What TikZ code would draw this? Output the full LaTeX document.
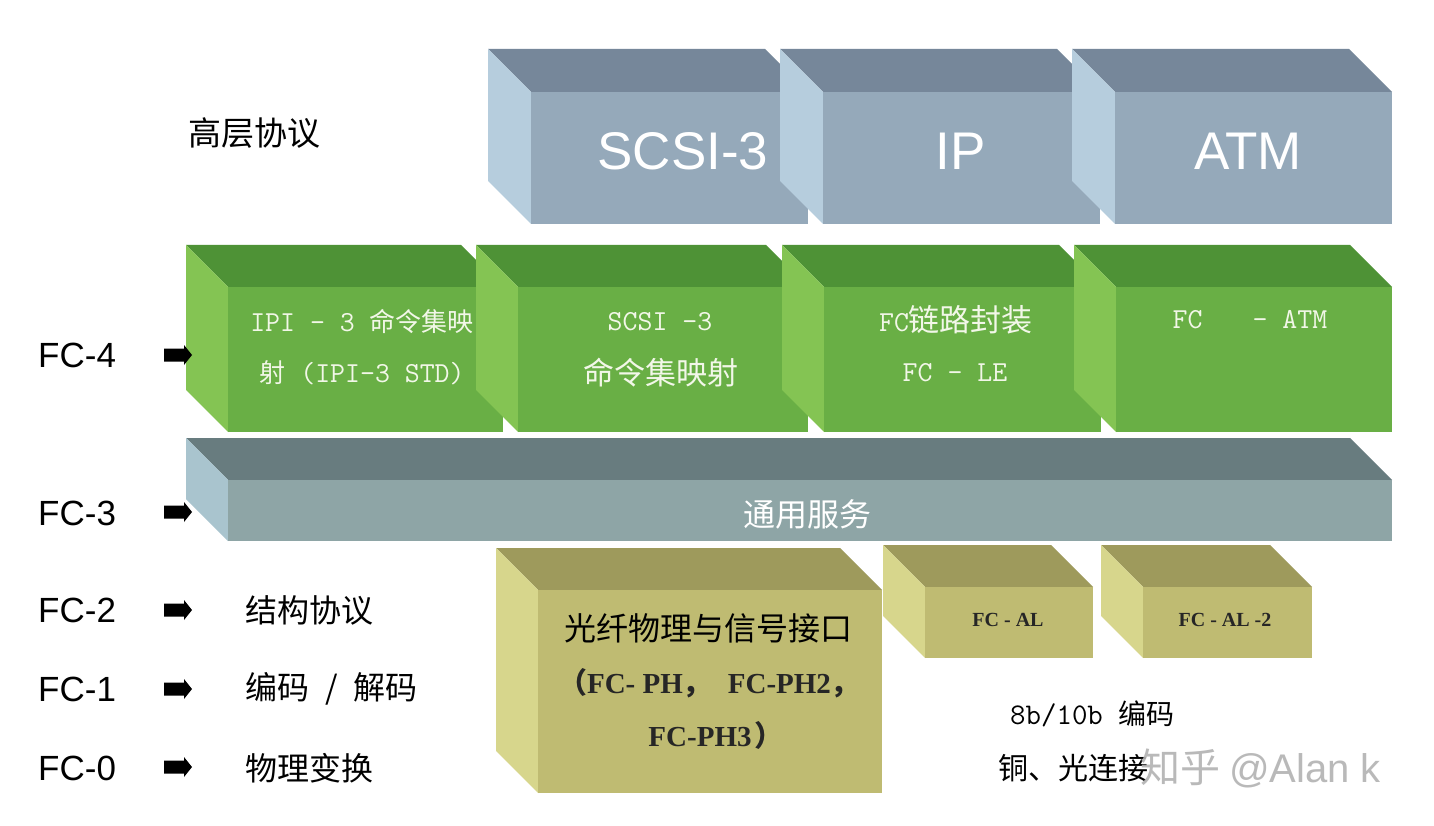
\documentclass[tikz,border=0pt]{standalone}
\usepackage{fontspec}
\setmainfont{Liberation Serif}
\newfontfamily\cjk{Noto Sans CJK SC}
\newfontfamily\arialf{Liberation Sans}
\newcommand\zh[1]{{\cjk #1}}
\definecolor{topF}{HTML}{95A9BA}
\definecolor{topT}{HTML}{76879A}
\definecolor{topS}{HTML}{B6CDDD}
\definecolor{grnF}{HTML}{69AF45}
\definecolor{grnT}{HTML}{4E9236}
\definecolor{grnS}{HTML}{84C453}
\definecolor{barF}{HTML}{8EA5A6}
\definecolor{barT}{HTML}{687C7F}
\definecolor{barS}{HTML}{A9C4CE}
\definecolor{olvF}{HTML}{BFBB72}
\definecolor{olvT}{HTML}{9E9A5C}
\definecolor{olvS}{HTML}{D7D68C}
\definecolor{grnTxt}{HTML}{F2F7E8}
\newcommand\fccube[9]{%
  \fill[#8] (#2,#3) -- (#4,#3) -- ({#4-#6},{#3-#6}) -- ({#2-#6},{#3-#6}) -- cycle;
  \fill[#9] (#2,#3) -- (#2,#5) -- ({#2-#6},{#5-#6}) -- ({#2-#6},{#3-#6}) -- cycle;
  \node[fill=#7, inner sep=0pt, outer sep=0pt, minimum width={(#4-#2)*1pt}, minimum height={(#5-#3)*1pt}, anchor=north west] (#1) at (#2,#3) {};
}
\newcommand\fcarrow[1]{%
  \fill[black] ($(#1)+(-12,-6.5)$) -- ($(#1)+(8,-6.5)$) -- ($(#1)+(8,-10)$) -- ($(#1)+(16,0)$) -- ($(#1)+(8,10)$) -- ($(#1)+(8,6.5)$) -- ($(#1)+(-12,6.5)$) -- cycle;
}
\usetikzlibrary{calc}
\begin{document}
\begin{tikzpicture}[x=1pt,y=-1pt,
  lbl/.style={font=\arialf\fontsize{35}{35}\selectfont, text=black, inner sep=0pt},
  zhlbl/.style={font=\cjk\fontsize{32}{32}\selectfont, text=black, inner sep=0pt},
  toptxt/.style={font=\arialf\fontsize{53}{53}\selectfont, text=white, inner sep=0pt},
  grntxt/.style={font=\ttfamily\fontsize{29}{29}\selectfont, text=grnTxt, inner sep=0pt},
  olvtxt/.style={font=\bfseries\fontsize{29}{29}\selectfont, text=black!85, inner sep=0pt},
  smalltxt/.style={font=\bfseries\fontsize{20}{20}\selectfont, text=black!85, inner sep=0pt}]
\useasboundingbox (0,0) rectangle (1434,826);
\fill[white] (0,0) rectangle (1434,826);

% upper-layer protocols
\node[font=\cjk\fontsize{33}{33}\selectfont, inner sep=0pt] (hl) at (254,133) {高层协议};
\fccube{scsi}{531}{92}{808}{224}{43}{topF}{topT}{topS}
\fccube{ip}{823}{92}{1100}{224}{43}{topF}{topT}{topS}
\fccube{atm}{1115}{92}{1392}{224}{43}{topF}{topT}{topS}
\node[toptxt] (scsiT) at (683,151) {SCSI-3};
\node[toptxt] (ipT) at (961,151) {IP};
\node[toptxt] (atmT) at (1248,151) {ATM};

% FC-4
\fccube{g1}{228}{287}{503}{432}{42}{grnF}{grnT}{grnS}
\fccube{g2}{518}{287}{808}{432}{42}{grnF}{grnT}{grnS}
\fccube{g3}{824}{287}{1101}{432}{42}{grnF}{grnT}{grnS}
\fccube{g4}{1116}{287}{1392}{432}{42}{grnF}{grnT}{grnS}
\node[grntxt] (g1a) at (362,322) {IPI - 3 \zh{\fontsize{26}{26}\selectfont 命令集映}};
\node[grntxt] (g1b) at (362,373) {\zh{\fontsize{26}{26}\selectfont 射} (IPI-3 STD)};
\node[grntxt] (g2a) at (660,322) {SCSI –3};
\node[grntxt] (g2b) at (661,373) {\zh{\fontsize{31}{31}\selectfont 命令集映射}};
\node[grntxt] (g3a) at (956,320) {FC\zh{\fontsize{31}{31}\selectfont 链路封装}};
\node[grntxt] (g3b) at (955,373) {FC - LE};
\node[grntxt] (g4a) at (1250,320) {FC\hspace{50pt}- ATM};

% FC-3
\fccube{bar}{228}{480}{1392}{541}{42}{barF}{barT}{barS}
\node[font=\cjk\fontsize{32}{32}\selectfont, text=white, inner sep=0pt] (barT) at (807,514) {通用服务};

% FC-2..0
\fccube{ph}{538}{590}{882}{793}{42}{olvF}{olvT}{olvS}
\fccube{al}{925}{587}{1093}{658}{42}{olvF}{olvT}{olvS}
\fccube{al2}{1143}{587}{1312}{658}{42}{olvF}{olvT}{olvS}
\node[font=\cjk\fontsize{32}{32}\selectfont, inner sep=0pt] (ph1) at (708,628) {光纤物理与信号接口};
\node[olvtxt] (ph2) at (709,683) {\zh{（}FC- PH\zh{，}\hspace{16pt}FC-PH2\zh{，}};
\node[olvtxt] (ph3) at (716,735) {FC-PH3\hspace{3pt}\zh{）}};
\node[smalltxt] (alT) at (1008,620) {FC - AL};
\node[smalltxt] (al2T) at (1225,620) {FC - AL -2};

\node[font=\ttfamily\fontsize{30}{30}\selectfont, inner sep=0pt, anchor=west] (enc) at (1010,714) {8b/10b \zh{\fontsize{28}{28}\selectfont 编码}};
\node[font=\cjk\fontsize{30}{30}\selectfont, inner sep=0pt, anchor=west] (cu) at (998,768) {铜、光连接};

% left labels
\node[lbl, anchor=west] (fc4) at (38,355) {FC-4};
\node[lbl, anchor=west] (fc3) at (38,513) {FC-3};
\node[lbl, anchor=west] (fc2) at (38,610) {FC-2};
\node[lbl, anchor=west] (fc1) at (38,689) {FC-1};
\node[lbl, anchor=west] (fc0) at (38,768) {FC-0};
\coordinate (a4) at (176,355);
\coordinate (a3) at (176,512);
\coordinate (a2) at (176,610);
\coordinate (a1) at (176,689);
\coordinate (a0) at (176,767);
\fcarrow{a4}\fcarrow{a3}\fcarrow{a2}\fcarrow{a1}\fcarrow{a0}
\node[zhlbl, anchor=west] (t2) at (245,610) {结构协议};
\node[zhlbl, anchor=west] (t1) at (245,689) {编码\hspace{16pt}/\hspace{16pt}解码};
\node[zhlbl, anchor=west] (t0) at (245,768) {物理变换};

% watermark
\node[font=\cjk\fontsize{40}{40}\selectfont, text=black!30, opacity=0.9, inner sep=0pt, anchor=west] (wm) at (1140,768) {知乎 {\arialf @Alan k}};
\end{tikzpicture}
\end{document}
